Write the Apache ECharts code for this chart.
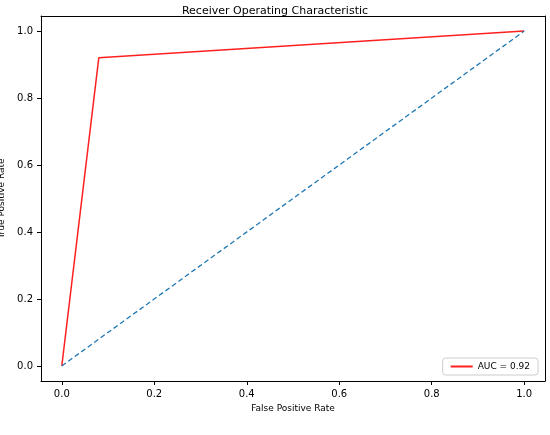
<!DOCTYPE html>
<html><head><meta charset="utf-8">
<script src="https://cdn.jsdelivr.net/npm/echarts@6/dist/echarts.min.js"></script>
<style>html,body{margin:0;padding:0;background:#fff}#c{width:550px;height:435px}</style>
</head><body><div id="c"></div>
<script>
const rocFpr = [0, 0.08, 1];
const rocTpr = [0, 0.92, 1];
const diagX = [0, 1];
const diagY = [0, 1];
const tickVals = [0, 0.2, 0.4, 0.6, 0.8, 1.0];
const aucLabel = 'AUC = 0.92';
const chart = echarts.init(document.getElementById('c'));
function ax(extra) {
  return Object.assign({
    type: 'value', min: -0.045, max: 1.045,
    axisLine: {show: true, onZero: false, lineStyle: {color: '#000'}},
    axisTick: {show: true, length: 4, customValues: tickVals, lineStyle: {color: '#000'}},
    splitLine: {show: false},
    axisLabel: {color: '#000', fontSize: 10, fontFamily: 'DejaVu Sans',
      customValues: tickVals, formatter: v => v.toFixed(1)},
    nameLocation: 'middle', nameTextStyle: {color: '#000', fontSize: 9, fontFamily: 'DejaVu Sans'}
  }, extra);
}
const hidden = {axisTick: {show: false}, axisLabel: {show: false}};
chart.setOption({
  animation: false,
  title: {text: 'Receiver Operating Characteristic', left: 'center', top: 1,
    textStyle: {fontSize: 11, fontWeight: 'normal', color: '#000', fontFamily: 'DejaVu Sans'}},
  grid: {left: 41, right: 5, top: 16, bottom: 54, containLabel: false, outerBoundsMode: 'none'},
  xAxis: [ax({name: 'False Positive Rate', nameGap: 20}), ax(Object.assign({position: 'top'}, hidden))],
  yAxis: [ax({name: 'True Positive Rate', nameGap: 28}), ax(Object.assign({position: 'right'}, hidden))],
  legend: {right: 12, bottom: 60, orient: 'vertical', data: [aucLabel],
    backgroundColor: '#fff', borderColor: '#ccc', borderWidth: 1, borderRadius: 3, padding: [4, 8],
    itemWidth: 22, itemHeight: 2, icon: 'rect',
    textStyle: {fontSize: 9, color: '#000', fontFamily: 'DejaVu Sans'}},
  series: [
    {name: aucLabel, type: 'line', data: rocFpr.map((x, i) => [x, rocTpr[i]]), symbol: 'none',
      lineStyle: {color: '#ff2020', width: 1.5}, itemStyle: {color: '#ff2020'}},
    {name: 'diag', type: 'line', data: diagX.map((x, i) => [x, diagY[i]]), symbol: 'none',
      lineStyle: {color: '#1f77b4', width: 1.3, type: [5, 3]}}
  ]
});
</script></body></html>
